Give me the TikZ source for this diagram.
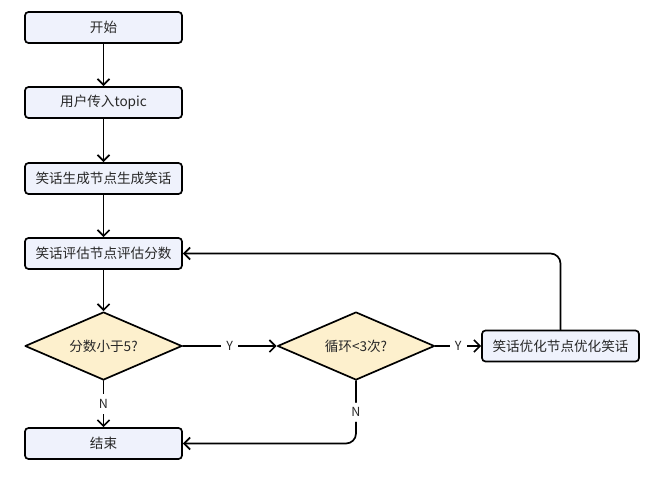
\documentclass[tikz,border=0pt]{standalone}
\usepackage{fontspec}
\setmainfont{Noto Sans CJK SC}
\usetikzlibrary{shapes.geometric, arrows.meta}
\definecolor{boxfill}{RGB}{239,242,252}
\definecolor{decfill}{RGB}{253,240,205}
\definecolor{ink}{RGB}{40,40,40}
\tikzset{
    box/.style={draw=black, fill=boxfill, rounded corners=3.5pt, line width=1.7pt,
        minimum width=157pt, minimum height=31pt, text=ink, font=\fontsize{13.6}{15}\selectfont},
    decision/.style={draw=black, fill=decfill, diamond, aspect=2.3, inner sep=0pt, line width=1.7pt,
        minimum width=157pt, minimum height=68pt, text=ink, font=\fontsize{13.6}{15}\selectfont},
    arr/.style={draw=black, line width=1.7pt, -{Straight Barb[length=6pt, width=12pt, line width=1.7pt]}},
    lbl/.style={fill=white, inner sep=5pt, text=ink, font=\fontsize{12.5}{14}\selectfont}
}
\begin{document}
\begin{tikzpicture}[x=1pt, y=-1pt, line join=round, line cap=round]
    \useasboundingbox[fill=white] (0,0) rectangle (660,476);

    \node[box] (start) at (103.5,27.5) {开始};
    \node[box] (topic) at (103.5,102.5) {用户传入topic};
    \node[box] (gen) at (103.5,178.5) {笑话生成节点生成笑话};
    \node[box] (eval) at (103.5,253.5) {笑话评估节点评估分数};
    \node[decision] (score) at (103.5,346) {分数小于5?};
    \node[box] (stop) at (103.5,443.5) {结束};
    \node[decision] (loop) at (356,346) {循环<3次?};
    \node[box] (opt) at (560.5,346) {笑话优化节点优化笑话};

    \draw[arr] (start) -- (topic);
    \draw[arr] (topic) -- (gen);
    \draw[arr] (gen) -- (eval);
    \draw[arr] (eval) -- (score);
    \draw[arr] (score) -- node[lbl] {N} (stop);
    \draw[arr] (score) -- node[lbl] {Y} (loop);
    \draw[arr] (loop) -- node[lbl] {Y} (opt);
    \draw[arr, rounded corners=10pt] (loop.south) |- node[lbl, pos=0.25] {N} (stop.east);
    \draw[arr, rounded corners=10pt] (opt.north) |- (eval.east);
\end{tikzpicture}
\end{document}
